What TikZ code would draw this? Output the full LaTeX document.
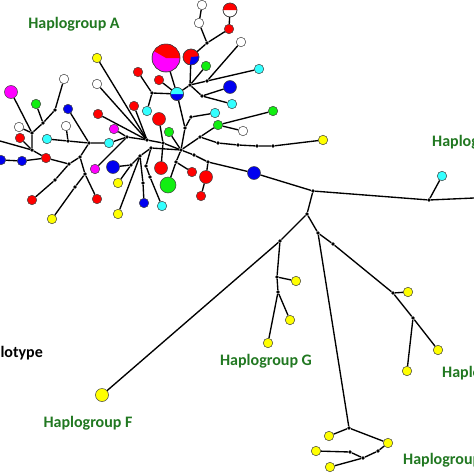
\documentclass[tikz,border=0pt]{standalone}
\usepackage{fontspec}
\setmainfont{Carlito}
\usepackage{xcolor}
\definecolor{HapRed}{HTML}{FF0000}
\definecolor{HapBlue}{HTML}{0000F0}
\definecolor{HapGreen}{HTML}{11EE11}
\definecolor{HapCyan}{HTML}{33FFFF}
\definecolor{HapYellow}{HTML}{FFFF00}
\definecolor{HapMag}{HTML}{FF00FF}
\definecolor{GroupGreen}{HTML}{217821}

\begin{document}
\begin{tikzpicture}[x=1pt, y=-1pt,
    hap/.style={circle, draw=black!75, line width=0.5pt, inner sep=0pt, minimum size=9.5pt},
    mid/.style={hap, minimum size=13pt},
    dot/.style={circle, fill=black, inner sep=0pt, minimum size=3.8pt},
    link/.style={line width=1.35pt},
    rim/.style={draw=black!75, line width=0.5pt},
    glabel/.style={font=\fontsize{16}{19}\selectfont\bfseries, text=GroupGreen, inner sep=0pt}
  ]
  \useasboundingbox (0,0) rectangle (474,474);
  \clip (0,0) rectangle (474,474);

  % group labels
  \node[glabel] (labA) at (74,24) {Haplogroup A};
  \node[glabel, anchor=west] (labB) at (432,142) {Haplogroup};
  \node[glabel] (labG) at (266,361) {Haplogroup G};
  \node[glabel] (labF) at (88,423) {Haplogroup F};
  \node[glabel, anchor=west] (labH) at (442,373) {Haplogroup};
  \node[glabel, anchor=west] (labI) at (403,460) {Haplogroup};
  \node[glabel, text=black, anchor=east] (labT) at (43,353) {Haplotype};

  % top of haplogroup A
  \node[hap, fill=white] (w1) at (202,5) {};
  \node[hap, fill=white] (w2) at (199,23) {};
  \node[hap, fill=white, minimum size=14pt] (rw) at (230,10) {};
  \node[hap, fill=HapRed] (r1) at (229,29) {};
  \node[dot] (t1) at (207,43) {};
  \node[hap, fill=HapRed, minimum size=16pt] (rb) at (191,57) {};
  \node[hap, fill=HapMag, minimum size=28pt] (pie) at (166,58) {};
  \node[hap, fill=HapGreen] (g1) at (206,66) {};
  \node[hap, fill=white] (w3) at (241,42) {};
  \node[hap, fill=HapCyan] (c1) at (259,69) {};
  \node[mid, fill=HapBlue] (bl1) at (230,87) {};
  \node[hap, fill=HapCyan] (c2) at (232,104) {};
  \node[dot] (t2) at (190,85) {};
  \node[dot] (t3) at (207,81) {};
  \node[dot] (t4) at (202,96) {};
  \node[mid, fill=HapBlue] (cb) at (177,94) {};
  \node[hap, fill=HapRed] (r2) at (138,72) {};
  \node[hap, fill=HapRed] (r3) at (159,80) {};
  \node[dot] (t5) at (152,93) {};
  \node[hap, fill=HapCyan] (c5) at (147,111) {};
  \node[hap, fill=HapRed] (r9) at (134,106) {};
  \node[mid, fill=HapRed] (r7) at (159,119) {};
  \node[hap, fill=HapGreen] (g5) at (169,132) {};
  \node[dot] (t6) at (185,128) {};
  \node[dot] (t7) at (191,117) {};
  \node[hap, fill=HapCyan] (c3) at (215,113) {};
  \node[dot] (t8) at (200,137) {};
  \node[hap, fill=HapGreen] (g2) at (218,125) {};
  \node[hap, fill=HapGreen] (g4) at (273,111) {};
  \node[hap, fill=white] (w4) at (243,131) {};
  \node[dot] (d4) at (218,143) {};
  \node[dot] (d5) at (238,145) {};
  \node[dot] (d6) at (257,146) {};
  \node[dot] (d7) at (273,146) {};
  \node[hap, fill=HapYellow] (y1) at (323,140) {};

  % centre and main line
  \node[dot] (C) at (181,150) {};
  \node[dot] (d1) at (194,155) {};
  \node[dot] (d2) at (208,162) {};
  \node[mid, fill=HapRed] (r4) at (206,177) {};
  \node[hap, fill=HapRed] (r5) at (201,196) {};
  \node[mid, fill=HapBlue] (bl2) at (254,173) {};
  \node[dot] (J1) at (313,191) {};
  \node[dot] (d3) at (429,200) {};
  \node[hap, fill=HapCyan] (c4) at (442,176) {};
  \coordinate (east) at (474,198);
  \node[dot] (t9) at (176,162) {};
  \node[hap, minimum size=16pt, fill=HapGreen] (g3) at (168,185) {};
  \node[hap, fill=HapRed] (r6) at (192,172) {};

  % left of centre
  \node[dot] (j9) at (163,143) {};
  \node[mid, fill=HapRed] (r10) at (161,168) {};
  \node[dot] (JL) at (147,140) {};
  \node[hap, fill=HapYellow] (y2) at (97,58) {};
  \node[hap, fill=white] (w5) at (97,84) {};
  \node[hap, fill=HapRed] (r8) at (98,114) {};
  \node[dot] (j10) at (127,137) {};
  \node[hap, fill=HapMag] (m1) at (114,129) {};
  \node[hap, fill=HapMag] (m2) at (95,169) {};
  \node[hap, fill=HapCyan] (c6) at (109,143) {};
  \node[dot] (j12) at (151,148) {};
  \node[dot] (j13) at (140,156) {};
  \node[dot] (j14) at (131,165) {};
  \node[mid, fill=HapBlue] (bl3) at (113,167) {};
  \node[hap, fill=HapYellow] (y3) at (118,183) {};
  \node[hap, fill=HapYellow] (y4) at (118,214) {};
  \node[dot] (d8) at (143,183) {};
  \node[hap, fill=HapBlue] (bl4) at (144,203) {};
  \node[dot] (d10) at (146,166) {};
  \node[dot] (d9) at (150,177) {};
  \node[hap, fill=HapCyan] (c7) at (162,206) {};

  % far left cluster
  \node[dot] (j11) at (89,143) {};
  \node[hap, fill=HapBlue] (bl5) at (68,109) {};
  \node[dot] (d11) at (68,141) {};
  \node[hap, fill=HapCyan] (c8) at (47,139) {};
  \node[hap, fill=white] (w6) at (66,126) {};
  \node[dot] (j15) at (80,157) {};
  \node[dot] (j16) at (69,164) {};
  \node[hap, fill=HapRed] (r11) at (46,158) {};
  \node[dot] (d12) at (55,180) {};
  \node[hap, fill=HapRed] (r12) at (32,200) {};
  \node[dot] (j17) at (85,174) {};
  \node[hap, fill=HapRed] (r13) at (97,199) {};
  \node[dot] (d13) at (75,187) {};
  \node[hap, fill=HapYellow] (y5) at (52,219) {};
  \node[hap, fill=HapBlue] (bl6) at (22,161) {};
  \node[hap, fill=HapBlue] (bl7) at (1,160) {};
  \node[dot] (j18) at (32,150) {};
  \coordinate (west) at (0,141);
  \node[hap, fill=HapRed] (r14) at (20,138) {};
  \node[dot] (j19) at (32,133) {};
  \node[mid, fill=HapMag] (m3) at (11,92) {};
  \node[hap, fill=white] (w7) at (19,127) {};
  \node[dot] (j20) at (43,123) {};
  \node[hap, fill=HapGreen] (g6) at (36,104) {};
  \node[dot] (d14) at (55,110) {};
  \node[hap, fill=white] (w8) at (64,79) {};

  % haplogroups F, G and lower right
  \node[dot] (J2) at (307,214) {};
  \node[dot] (J3) at (280,241) {};
  \node[mid, fill=HapYellow] (yF) at (102,395) {};
  \node[dot] (jg1) at (277,277) {};
  \node[hap, fill=HapYellow] (yg1) at (296,281) {};
  \node[dot] (jg2) at (278,292) {};
  \node[hap, fill=HapYellow] (yg2) at (290,320) {};
  \node[hap, fill=HapYellow] (yg3) at (268,343) {};
  \node[dot] (J4) at (318,233) {};
  \node[dot] (d15) at (333,244) {};
  \node[dot] (jh1) at (393,293) {};
  \node[hap, fill=HapYellow] (yh1) at (408,292) {};
  \node[dot] (jh2) at (413,318) {};
  \node[hap, fill=HapYellow] (yh2) at (438,350) {};
  \node[hap, fill=HapYellow] (yh3) at (407,371) {};
  \node[dot] (jb1) at (349,428) {};
  \node[hap, fill=HapYellow] (yb1) at (329,436) {};
  \node[hap, fill=HapYellow] (yb2) at (388,443) {};
  \node[dot] (d16) at (378,451) {};
  \node[dot] (jb2) at (363,458) {};
  \node[dot] (d17) at (350,452) {};
  \node[hap, fill=HapYellow] (yb3) at (316,451) {};
  \node[hap, fill=HapYellow] (yb4) at (330,467) {};

  % pie slices
  \fill[HapRed] (pie.center) -- ++(0:14) arc[start angle=0, end angle=-150, radius=14] -- cycle;
  \draw[rim] (pie.center) circle[radius=14];
  \fill[HapRed] (rw.center) -- ++(0:7) arc[start angle=0, end angle=-180, radius=7] -- cycle;
  \draw[rim] (rw.center) circle[radius=7];
  \fill[HapBlue] (rb.center) -- ++(100:8) arc[start angle=100, end angle=-5, radius=8] -- cycle;
  \draw[rim] (rb.center) circle[radius=8];
  \fill[HapCyan] (cb.center) -- ++(0:6.5) arc[start angle=0, end angle=-180, radius=6.5] -- cycle;
  \draw[rim] (cb.center) circle[radius=6.5];

  % links
  \draw[link] (w1) -- (w2) -- (t1) -- (rb) -- (t2);
  \draw[link] (rw) -- (r1) -- (t1);
  \draw[link] (g1) -- (t2) -- (cb) -- (pie);
  \draw[link] (w3) -- (t3) -- (t2);
  \draw[link] (c1) -- (t3);
  \draw[link] (bl1) -- (t4) -- (t2);
  \draw[link] (c2) -- (t4);
  \draw[link] (r2) -- (t5) -- (cb);
  \draw[link] (r3) -- (cb);
  \draw[link] (c5) -- (t5);
  \draw[link] (cb) -- (t6) -- (C);
  \draw[link] (t6) -- (t7) -- (c3);
  \draw[link] (C) -- (g5);
  \draw[link] (C) -- (t8) -- (g2) -- (g4);
  \draw[link] (g2) -- (w4);
  \draw[link] (t8) -- (d4) -- (d5) -- (d6) -- (d7) -- (y1);
  \draw[link] (C) -- (d1) -- (d2) -- (bl2) -- (J1) -- (d3) -- (east);
  \draw[link] (d3) -- (c4);
  \draw[link] (d2) -- (r4) -- (r5);
  \draw[link] (C) -- (t9) -- (g3);
  \draw[link] (t9) -- (r6);
  \draw[link] (C) -- (j9) -- (JL) -- (j10) -- (c6) -- (j11);
  \draw[link] (j9) -- (r7);
  \draw[link] (j9) -- (r10);
  \draw[link] (JL) -- (y2);
  \draw[link] (JL) -- (w5);
  \draw[link] (JL) -- (r8);
  \draw[link] (JL) -- (r9);
  \draw[link] (j10) -- (m1);
  \draw[link] (j10) -- (m2);
  \draw[link] (C) -- (j12) -- (j13) -- (j14) -- (bl3);
  \draw[link] (j14) -- (y3);
  \draw[link] (j13) -- (y4);
  \draw[link] (j13) -- (d8) -- (bl4);
  \draw[link] (j12) -- (d10) -- (d9) -- (c7);
  \draw[link] (j11) -- (bl5);
  \draw[link] (j11) -- (d11) -- (c8);
  \draw[link] (d11) -- (w6);
  \draw[link] (j11) -- (j15) -- (j16) -- (r11);
  \draw[link] (j16) -- (d12) -- (r12);
  \draw[link] (j15) -- (j17) -- (r13);
  \draw[link] (j17) -- (d13) -- (y5);
  \draw[link] (r11) -- (bl6) -- (bl7);
  \draw[link] (r11) -- (j18) -- (west);
  \draw[link] (j18) -- (r14);
  \draw[link] (j18) -- (j19) -- (m3);
  \draw[link] (j19) -- (w7);
  \draw[link] (j19) -- (j20) -- (g6);
  \draw[link] (j20) -- (d14) -- (w8);
  \draw[link] (J1) -- (J2) -- (J3) -- (yF);
  \draw[link] (J3) -- (jg1) -- (yg1);
  \draw[link] (jg1) -- (jg2) -- (yg2);
  \draw[link] (jg2) -- (yg3);
  \draw[link] (J2) -- (J4) -- (d15) -- (jh1) -- (yh1);
  \draw[link] (jh1) -- (jh2) -- (yh2);
  \draw[link] (jh2) -- (yh3);
  \draw[link] (J4) -- (jb1) -- (yb1);
  \draw[link] (jb1) -- (yb2) -- (d16) -- (jb2) -- (d17) -- (yb3);
  \draw[link] (jb2) -- (yb4);
\end{tikzpicture}
\end{document}
